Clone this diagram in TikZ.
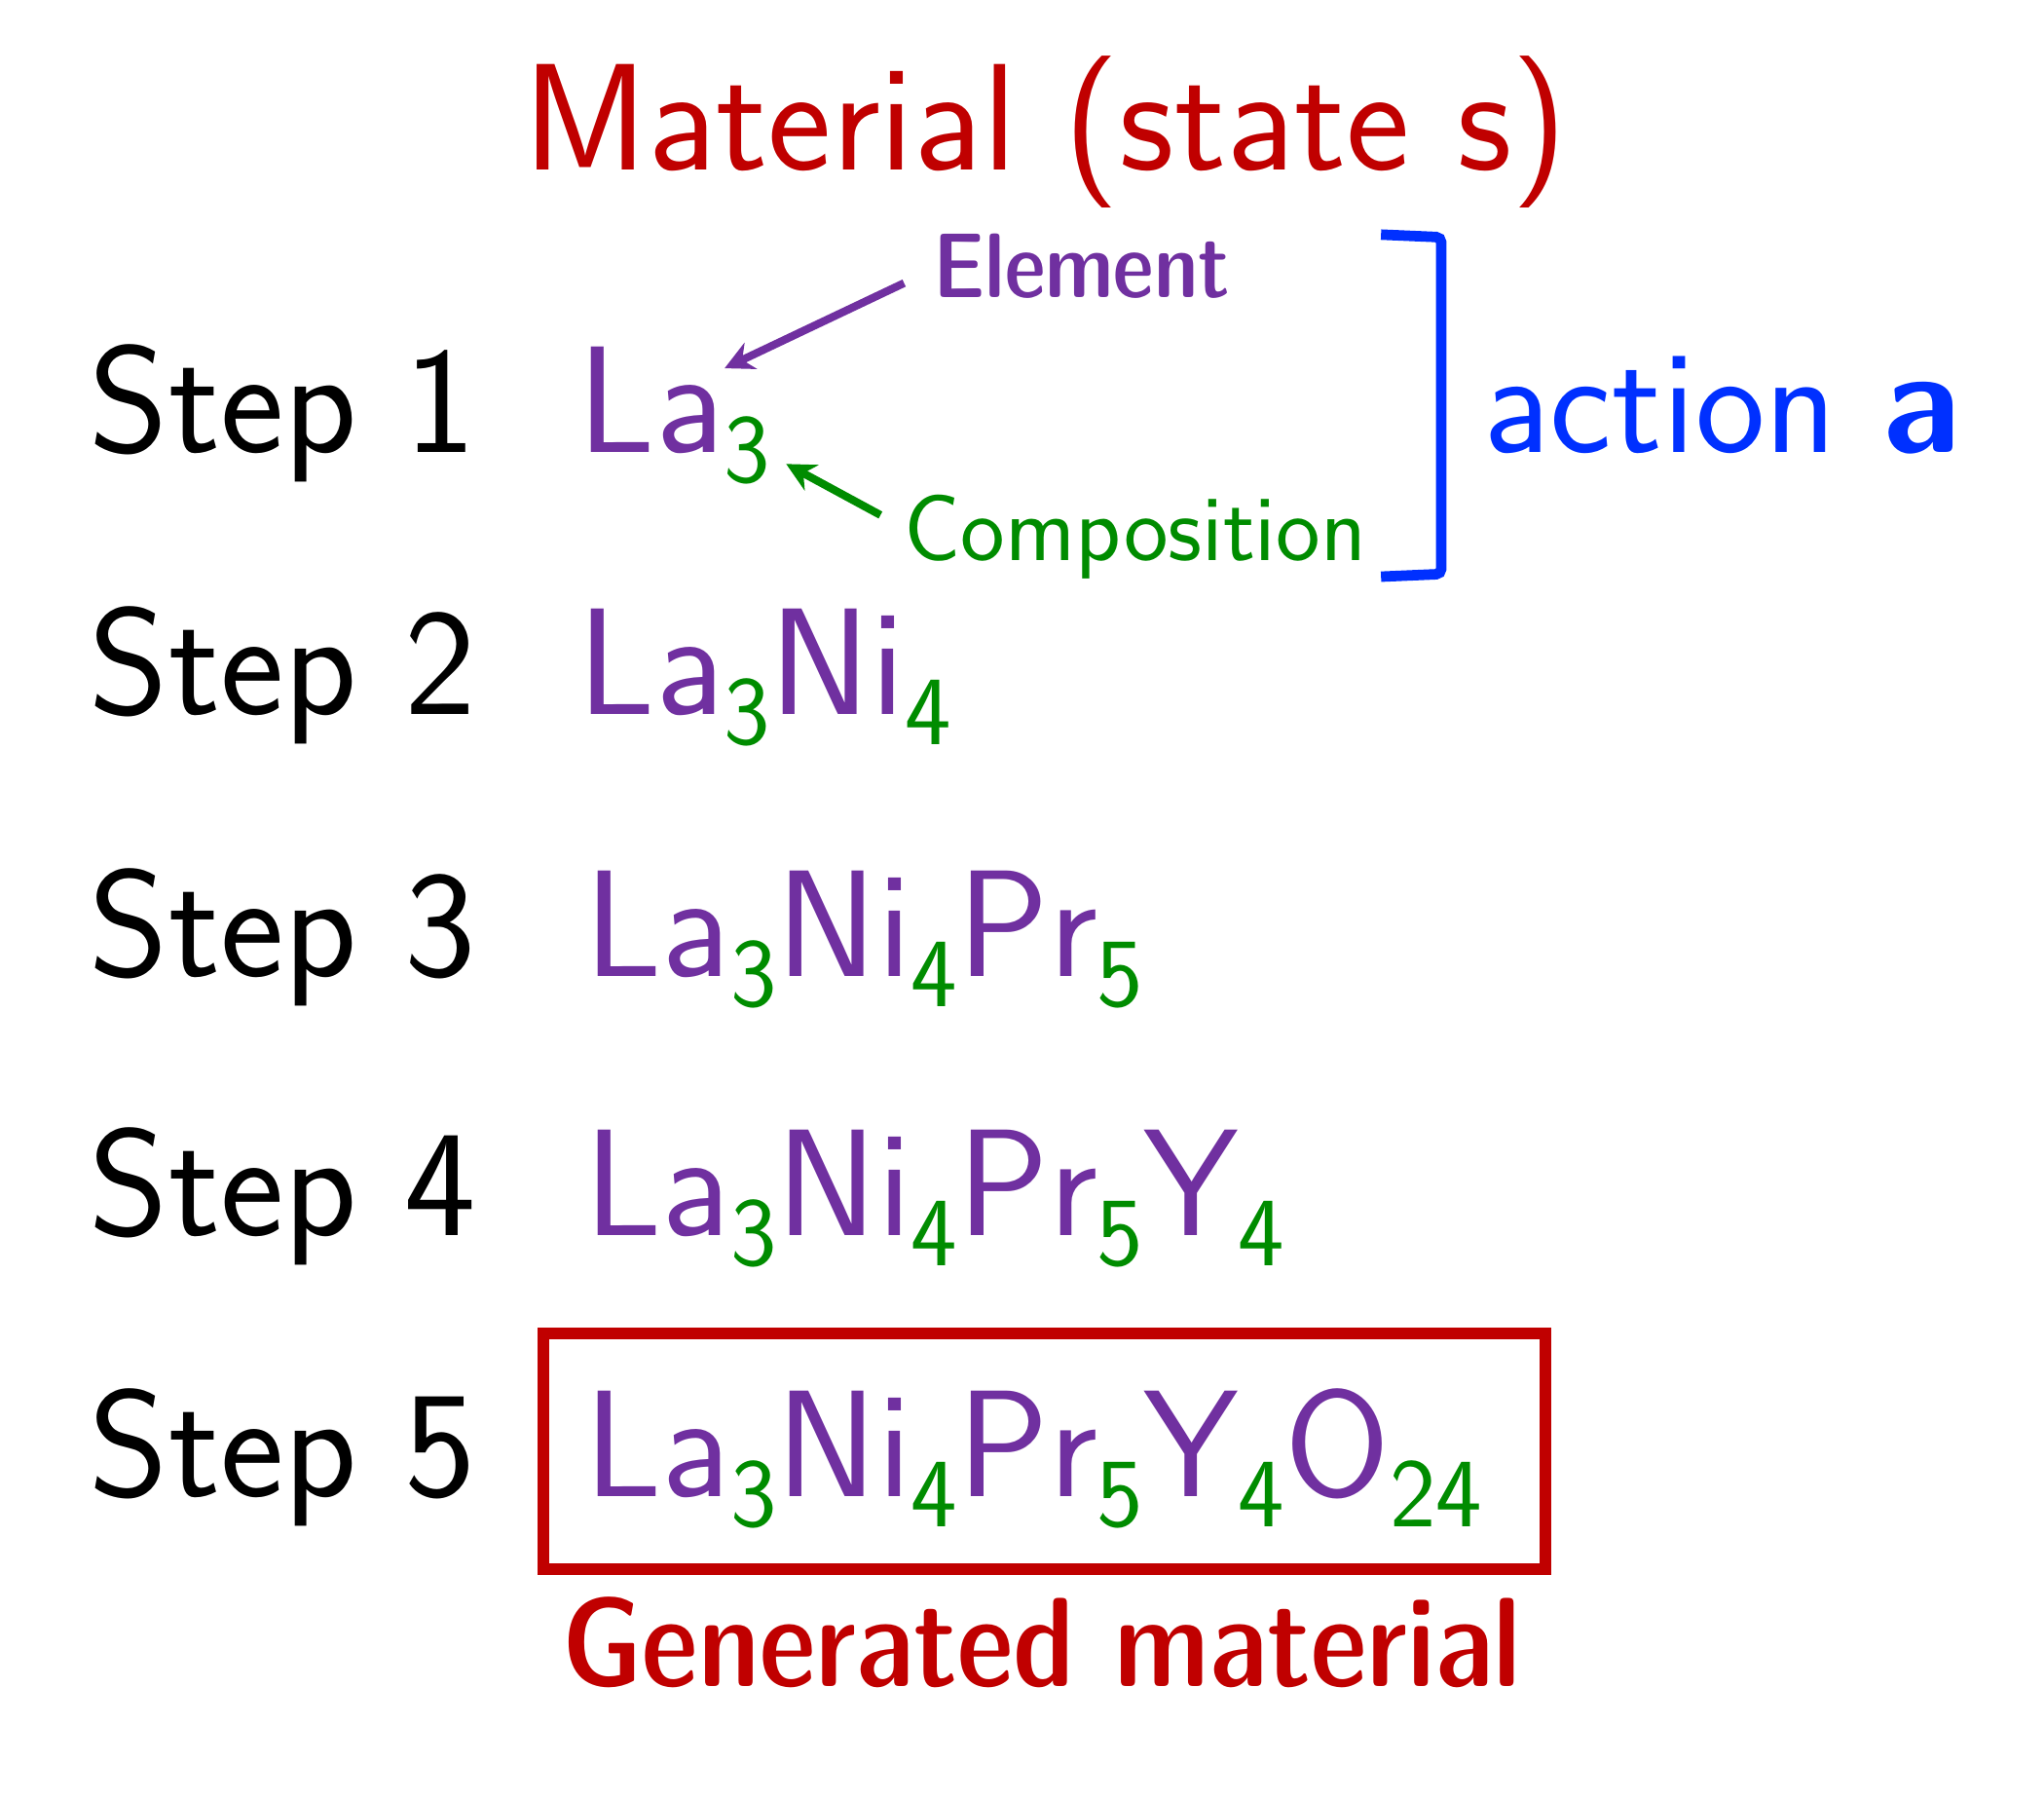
\documentclass[tikz,border=0pt]{standalone}
\usetikzlibrary{arrows.meta}
\definecolor{myred}{RGB}{192,0,0}
\definecolor{mypurple}{RGB}{112,48,160}
\definecolor{mygreen}{RGB}{0,140,0}
\definecolor{myblue}{RGB}{0,48,255}
\newcommand{\el}[1]{\textcolor{mypurple}{#1}}
\newcommand{\co}[1]{\raisebox{-23pt}{\fontsize{75}{85}\selectfont\textcolor{mygreen}{#1}}}
\tikzset{
  lbl/.style={anchor=base west,inner sep=0pt,font=\sffamily\fontsize{116}{130}\selectfont},
  frm/.style={anchor=base west,inner sep=0pt,font=\sffamily\fontsize{116}{130}\selectfont},
}
\begin{document}
\begin{tikzpicture}[x=1pt,y=-1pt]
\useasboundingbox (0,0) rectangle (1560,1373);
\node[anchor=base,inner sep=0pt,font=\sffamily\fontsize{116}{130}\selectfont,text=myred] (title) at (798,130) {Material (state s)};
\node[lbl] (s1) at (68,345) {Step 1};
\node[lbl] (s2) at (68,545) {Step 2};
\node[lbl] (s3) at (68,745) {Step 3};
\node[lbl] (s4) at (68,943) {Step 4};
\node[lbl] (s5) at (68,1142) {Step 5};
\node[frm] (f1) at (441,345) {\el{La}\co{3}};
\node[frm] (f2) at (441,545) {\el{La}\co{3}\el{Ni}\co{4}};
\node[frm] (f3) at (446,745) {\el{La}\co{3}\el{Ni}\co{4}\el{Pr}\co{5}};
\node[frm] (f4) at (446,943) {\el{La}\co{3}\el{Ni}\co{4}\el{Pr}\co{5}\el{Y}\co{4}};
\node[frm] (f5) at (446,1142) {\el{La}\co{3}\el{Ni}\co{4}\el{Pr}\co{5}\el{Y}\co{4}\el{O}\co{24}};
\node[draw=myred,line width=9pt,minimum width=765pt,minimum height=180pt,anchor=north west,inner sep=0pt] (box) at (410,1013) {};
\node[anchor=base,inner sep=0pt,font=\sffamily\fontseries{sbc}\selectfont\fontsize{97}{110}\selectfont,text=myred] (gen) at (795,1287) {Generated material};
\node[anchor=base west,inner sep=0pt,font=\sffamily\fontseries{sbc}\selectfont\fontsize{70}{80}\selectfont,text=mypurple] (elem) at (712,227) {Element};
\node[anchor=base west,inner sep=0pt,font=\sffamily\fontsize{72}{80}\selectfont,text=mygreen] (comp) at (690,428) {Composition};
\coordinate (ea) at (690,216); \coordinate (eb) at (553,281);
\coordinate (ca) at (672,393); \coordinate (cb) at (600,354);
\draw[mypurple,line width=6pt,-{Stealth[length=22pt,width=22pt]}] (ea) -- (eb);
\draw[mygreen,line width=6pt,-{Stealth[length=22pt,width=22pt]}] (ca) -- (cb);
\coordinate (b1) at (1054,179); \coordinate (b2) at (1100,181);
\coordinate (b3) at (1100,438); \coordinate (b4) at (1054,440);
\draw[myblue,line width=8pt,rounded corners=4pt] (b1) -- (b2) -- (b3) -- (b4);
\node[anchor=base west,inner sep=0pt,font=\sffamily\fontsize{113}{130}\selectfont,text=myblue] (act) at (1132,345) {action \textbf{a}};
\end{tikzpicture}
\end{document}
